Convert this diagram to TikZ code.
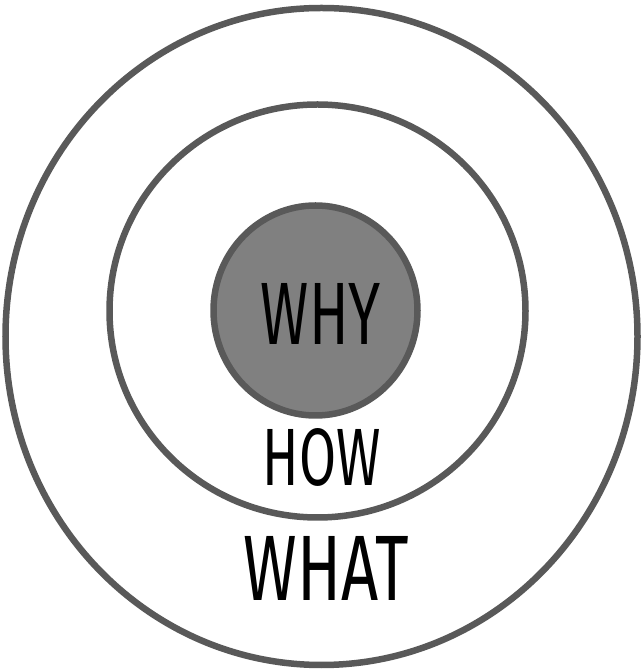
\documentclass[tikz,border=0pt]{standalone}
\usepackage{fontspec}
\usepackage{graphicx}
\usetikzlibrary{shapes.geometric}
\setmainfont{Fira Sans}
\definecolor{ringline}{HTML}{595959}
\definecolor{corefill}{HTML}{808080}
\begin{document}
\begin{tikzpicture}[x=1pt,y=1pt,
  ring/.style={draw=ringline,line width=6.5pt},
  word/.style={inner sep=0pt,text=black,font=\fontseries{m}\selectfont}]
\useasboundingbox (0,0) rectangle (642,672);
\node[ring,ellipse,minimum width=632pt,minimum height=657pt,inner sep=0pt] (what) at (321.5,335.5) {};
\node[ring,ellipse,minimum width=416pt,minimum height=413pt,inner sep=0pt] (how) at (317.5,361) {};
\node[ring,ellipse,fill=corefill,minimum width=204pt,minimum height=210pt,inner sep=0pt] (why) at (315.5,361.5) {};
\node[word] (whyt) at (321,358.5) {\resizebox{120pt}{61pt}{WHY}};
\node[word] (howt) at (322,214.5) {\resizebox{118pt}{57pt}{HOW}};
\node[word] (whatt) at (326.5,103.5) {\resizebox{165pt}{64pt}{WHAT}};
\end{tikzpicture}
\end{document}
